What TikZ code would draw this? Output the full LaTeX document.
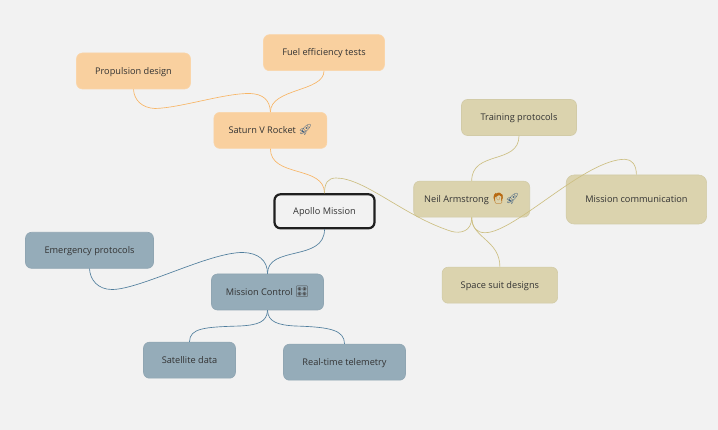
\documentclass[tikz,border=0pt]{standalone}
\usepackage{fontspec}
\setmainfont{Open Sans}
\newfontfamily\emojifont{Noto Emoji}
\definecolor{paper}{HTML}{F2F2F2}
\definecolor{inkc}{HTML}{333333}
\definecolor{rocketfill}{HTML}{F9D09F}
\definecolor{rocketedge}{HTML}{F8B565}
\definecolor{crewfill}{HTML}{DBD3AE}
\definecolor{crewedge}{HTML}{CDBF82}
\definecolor{ctrlfill}{HTML}{95ACB9}
\definecolor{ctrledge}{HTML}{4F7D9C}
\definecolor{iconc}{HTML}{3F5F80}
\definecolor{facec}{HTML}{B86A12}
\newcommand{\iconchar}[2]{{\fontsize{11}{11}\emojifont\textcolor{#1}{#2}}}
\begin{document}
\begin{tikzpicture}[x=1pt,y=-1pt]
    \tikzstyle{topic}=[rounded corners=6pt,inner sep=0pt,font=\fontsize{9.2}{11}\selectfont,text=inkc,text height=9pt,text depth=2.4pt]
    \tikzstyle{rocketnode}=[topic,fill=rocketfill,draw=rocketfill!90!white,line width=0.6pt]
    \tikzstyle{crewnode}=[topic,fill=crewfill,draw=crewfill!96!black,line width=0.6pt]
    \tikzstyle{ctrlnode}=[topic,fill=ctrlfill,draw=ctrlfill!96!black,line width=0.6pt]
    \tikzstyle{rocketline}=[draw=rocketedge,line width=0.65pt]
    \tikzstyle{crewline}=[draw=crewedge,line width=0.65pt]
    \tikzstyle{ctrlline}=[draw=ctrledge,line width=0.65pt]
    \fill[paper] (0,0) rectangle (718,430);
    \useasboundingbox (0,0) rectangle (718,430);
    \node[topic,draw=black!88,line width=2.2pt,fill=paper,minimum width=100pt,minimum height=34pt] (apollo) at (324.5,211.3){Apollo Mission};
    \node[rocketnode,minimum width=113pt,minimum height=36pt] (saturn) at (270.4,130.4){Saturn V Rocket \iconchar{iconc}{🚀}};
    \node[rocketnode,minimum width=114pt,minimum height=36pt] (propulsion) at (133.5,71){Propulsion design};
    \node[rocketnode,minimum width=121pt,minimum height=36pt] (fuel) at (324,52.7){Fuel efficiency tests};
    \node[crewnode,minimum width=115pt,minimum height=36pt] (training) at (519,117.5){Training protocols};
    \node[crewnode,minimum width=116pt,minimum height=36pt] (neil) at (471.7,199.2){Neil Armstrong \iconchar{facec}{🧑}\iconchar{iconc}{🚀}};
    \node[crewnode,rounded corners=8pt,minimum width=140.5pt,minimum height=49pt] (comm) at (636.4,199.5){Mission communication};
    \node[crewnode,minimum width=115.5pt,minimum height=36pt] (suit) at (499.9,285.2){Space suit designs};
    \node[ctrlnode,minimum width=128pt,minimum height=36pt] (emergency) at (89.5,250.3){Emergency protocols};
    \node[ctrlnode,minimum width=112pt,minimum height=36pt] (control) at (267.5,292){Mission Control \iconchar{black!75}{🎛}};
    \node[ctrlnode,minimum width=92pt,minimum height=36pt] (satellite) at (189.5,360.2){Satellite data};
    \node[ctrlnode,minimum width=122pt,minimum height=36pt] (telemetry) at (344.5,362.2){Real-time telemetry};
    % rocket branch
    \draw[rocketline] (saturn.south) .. controls (270.4,178) and (324.5,165) .. (apollo.north);
    \draw[rocketline] (propulsion.south) .. controls (134,100) and (142,108) .. (155,108.5) .. controls (180,108) and (225,93) .. (250,93.5) .. controls (263,94) and (270,100) .. (saturn.north);
    \draw[rocketline] (fuel.south) .. controls (324,92) and (270.4,88) .. (saturn.north);
    % crew branch
    \draw[crewline] (apollo.north) .. controls (324.5,183) and (328,178) .. (336,178) .. controls (365,178) and (405,217) .. (452,231.5) .. controls (460,233.5) and (471.7,232) .. (neil.south);
    \draw[crewline] (training.south) .. controls (519,165) and (471.7,150) .. (neil.north);
    \draw[crewline] (neil.south) .. controls (472,228) and (477,232.7) .. (485,232.7) .. controls (515,232.7) and (585,159) .. (625,159.3) .. controls (632,159.3) and (636.4,165) .. (comm.north);
    \draw[crewline] (neil.south) .. controls (471.7,238) and (499.9,240) .. (suit.north);
    % control branch
    \draw[ctrlline] (control.north) .. controls (267.5,245) and (324.5,262) .. (apollo.south);
    \draw[ctrlline] (emergency.south) .. controls (90,280) and (98,289.5) .. (112,289.5) .. controls (140,289.5) and (210,252) .. (243,252.5) .. controls (258,253) and (267.5,260) .. (control.north);
    \draw[ctrlline] (control.south) .. controls (267,322) and (258,325) .. (240,326) .. controls (205,327) and (189.5,328) .. (satellite.north);
    \draw[ctrlline] (control.south) .. controls (268,322) and (278,325) .. (295,326) .. controls (330,327) and (344.5,330) .. (telemetry.north);
\end{tikzpicture}
\end{document}
